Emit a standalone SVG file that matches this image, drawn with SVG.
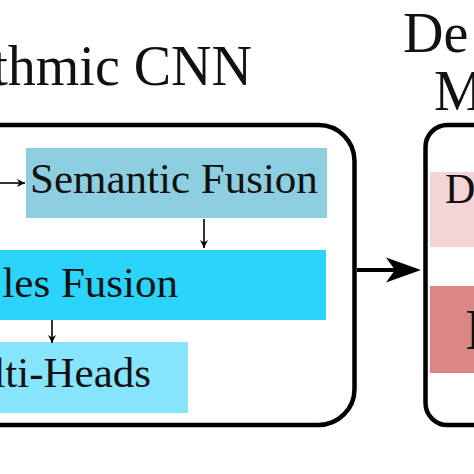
<svg xmlns="http://www.w3.org/2000/svg" width="474" height="474" viewBox="0 0 474 474">
<style>
text{font-family:"Liberation Serif","Times New Roman",serif;fill:#111}
.container{fill:none;stroke:#000;stroke-width:4.5}
.thin{stroke:#000;stroke-width:1.6;fill:none}
.big{font-size:56px}
.mid{font-size:43px}
</style>
<defs>
<marker id="ah" viewBox="0 0 10 10" refX="10" refY="5" markerWidth="5" markerHeight="5" orient="auto" markerUnits="strokeWidth">
<path d="M0,0 L10,5 L0,10 L3,5 z" fill="#000"/>
</marker>
</defs>
<rect width="474" height="474" fill="#fff"/>
<g id="title-left"><text class="big" x="252" y="85" text-anchor="end">thmic CNN</text></g>
<g id="title-right"><text class="big" x="403" y="52">De</text><text class="big" x="434" y="110">M</text></g>
<g id="container-left"><rect class="container" x="-40" y="125" width="394.5" height="300" rx="36"/></g>
<g id="container-right"><rect class="container" x="425.5" y="125" width="120" height="300" rx="22"/></g>
<g id="semantic-fusion"><rect x="26" y="148" width="301" height="70" fill="#8dcee0"/><text class="mid" x="30" y="193">Semantic Fusion</text></g>
<g id="modules-fusion"><rect x="-5" y="250" width="331" height="70" fill="#2bd4fb"/><text class="mid" x="178" y="297" text-anchor="end">les Fusion</text></g>
<g id="multi-heads"><rect x="-5" y="342" width="193" height="71" fill="#86e4fb"/><text class="mid" x="151" y="387" text-anchor="end">lti-Heads</text></g>
<g id="right-box-1"><rect x="430" y="172" width="60" height="75" fill="#f3d5d7"/><text style="font-size:42px" x="445" y="203">D</text></g>
<g id="right-box-2"><rect x="430" y="286" width="60" height="87" fill="#db8684"/><text class="big" x="465" y="349">I</text></g>
<g id="connectors">
<line class="thin" x1="0" y1="183" x2="25" y2="183" marker-end="url(#ah)"/>
<line class="thin" x1="204" y1="219" x2="204" y2="248" marker-end="url(#ah)"/>
<line class="thin" x1="52" y1="320" x2="52" y2="343" marker-end="url(#ah)"/>
<line x1="357" y1="270" x2="395" y2="270" stroke="#000" stroke-width="4"/>
<path d="M421,270 L386,257.5 L395,270 L386,282.5 z" fill="#000"/>
</g>
</svg>
